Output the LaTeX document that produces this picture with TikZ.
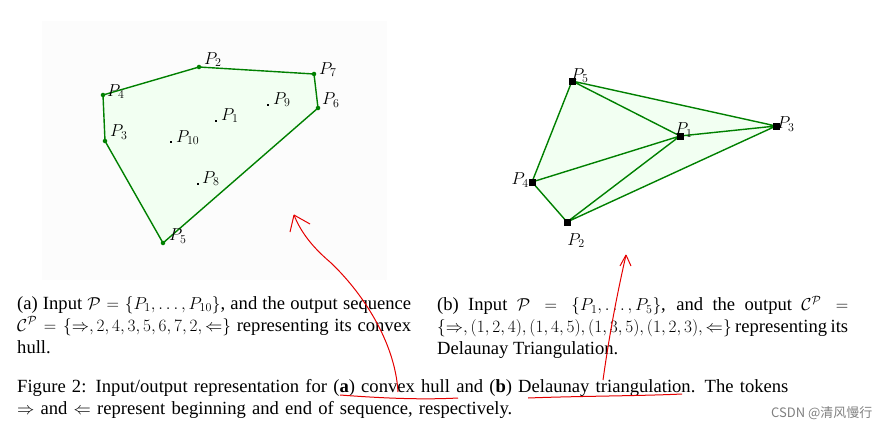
\documentclass[tikz,border=0pt]{standalone}
\usepackage{amsmath,amssymb}
\usepackage{fontspec}
\setmainfont{Liberation Serif}
\newfontfamily\cjk{Noto Sans CJK SC}
\begin{document}
\begin{tikzpicture}[x=1pt,y=-1pt,
  hull/.style={draw=green!50!black,line width=1.4pt,fill=green!5},
  gdot/.style={circle,fill=green!50!black,inner sep=1.6pt},
  bdot/.style={fill=black,inner sep=1.4pt},
  bsq/.style={fill=black,inner sep=3.5pt},
  lab/.style={font=\fontsize{17}{17}\selectfont,inner sep=1pt},
  captxt/.style={anchor=north west,inner sep=0pt,align=justify,font=\fontsize{18.6}{22}\selectfont},
  ink/.style={draw=red!90!black,line width=1pt}]
\useasboundingbox (0,0) rectangle (882,436);
\fill[gray!2] (42,21) rectangle (387,280);
% left hull
\coordinate (P2) at (199,67); \coordinate (P7) at (314,74); \coordinate (P6) at (318,108);
\coordinate (P5) at (163,243); \coordinate (P3) at (105,141); \coordinate (P4) at (103,95);
\draw[hull] (P4)--(P2)--(P7)--(P6)--(P5)--(P3)--cycle;
\foreach \p in {P2,P7,P6,P5,P3,P4} \node[gdot] at (\p) {};
\node[bdot] (q1) at (216,121) {}; \node[bdot] (q9) at (268,105) {};
\node[bdot] (q10) at (171,142) {}; \node[bdot] (q8) at (198,184) {};
\node[lab,anchor=south west] at (203,68) {$P_2$};
\node[lab,anchor=south west] at (318,78) {$P_7$};
\node[lab,anchor=west] at (321,100) {$P_6$};
\node[lab,anchor=south west] at (106,100) {$P_4$};
\node[lab,anchor=west] at (109,132) {$P_3$};
\node[lab,anchor=west] at (168,236) {$P_5$};
\node[lab,anchor=south west] at (220,124) {$P_1$};
\node[lab,anchor=south west] at (272,108) {$P_9$};
\node[lab,anchor=south west] at (175,146) {$P_{10}$};
\node[lab,anchor=south west] at (201,187) {$P_8$};
% right triangulation
\coordinate (R5) at (572,81); \coordinate (R3) at (776,126); \coordinate (R1) at (680,136);
\coordinate (R4) at (532,182); \coordinate (R2) at (567,222);
\fill[green!5] (R5)--(R3)--(R2)--(R4)--cycle;
\draw[hull,fill=none] (R5)--(R3)--(R2)--(R4)--cycle (R5)--(R1)--(R3) (R4)--(R1)--(R2);
\foreach \p in {R5,R3,R1,R4,R2} \node[bsq] at (\p) {};
\node[lab,anchor=south west] at (570,84) {$P_5$};
\node[lab,anchor=west] at (776,124) {$P_3$};
\node[lab,anchor=west] at (674,130) {$P_1$};
\node[lab,anchor=east] at (530,180) {$P_4$};
\node[lab,anchor=north] at (576,232) {$P_2$};
% captions
\node[captxt,text width=394pt] (ca) at (17,296) {(a) Input $\mathcal{P}=\{P_1,\ldots,P_{10}\}$, and the output se\-quence $\mathcal{C}^{\mathcal{P}}=\{\Rightarrow,2,4,3,5,6,7,2,\Leftarrow\}$ repre\-sent\-ing its convex hull.};
\node[captxt,text width=411pt] (cb) at (437,296) {(b) Input $\mathcal{P}=\{P_1,\ldots,P_5\}$, and the output $\mathcal{C}^{\mathcal{P}}=$ $\{\Rightarrow,(1,2,4),(1,4,5),(1,3,5),(1,2,3),\Leftarrow\}$ repre\-sent\-ing its Delaunay Triangulation.};
\node[captxt,text width=840pt,align=left] (fig) at (17,379) {Figure 2: Input/output representation for (\textbf{a}) convex hull and (\textbf{b}) Delaunay triangulation. The tokens\\$\Rightarrow$ and $\Leftarrow$ represent beginning and end of sequence, respectively.};
% red annotations
\draw[ink] (398,392) .. controls (395,340) and (360,290) .. (330,262) .. controls (310,245) and (300,230) .. (294,215);
\draw[ink] (294,215) -- (290,232) (294,215) -- (310,224);
\draw[ink] (340,395) .. controls (380,398) and (420,400) .. (458,398);
\draw[ink] (603,380) .. controls (610,330) and (618,290) .. (626,255);
\draw[ink] (626,255) -- (620,266) (626,255) -- (631,266);
\draw[ink] (528,398) .. controls (580,396) and (640,396) .. (682,394);
\node[font=\cjk\fontsize{13}{13}\selectfont,text=gray,anchor=east] (wm) at (876,413) {CSDN @清风慢行};
\end{tikzpicture}
\end{document}
